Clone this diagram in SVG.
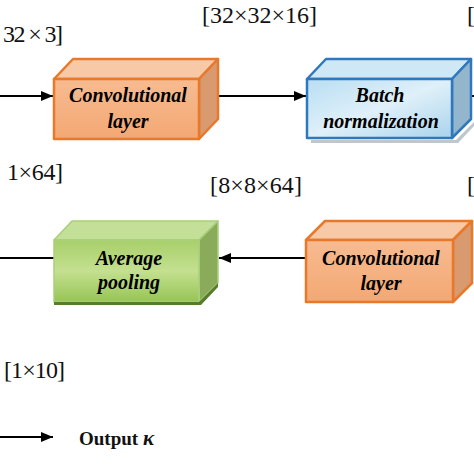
<svg xmlns="http://www.w3.org/2000/svg" width="474" height="474" viewBox="0 0 474 474">
<defs>
<linearGradient id="gOrF" x1="0" y1="0" x2="0" y2="1"><stop offset="0" stop-color="#f7bb90"/><stop offset="1" stop-color="#f3a874"/></linearGradient>
<linearGradient id="gBlF" x1="0" y1="0" x2="1" y2="1"><stop offset="0" stop-color="#b9def3"/><stop offset="0.5" stop-color="#dff0f9"/><stop offset="1" stop-color="#a9d3ec"/></linearGradient>
<linearGradient id="gGrF" x1="0" y1="0" x2="0" y2="1"><stop offset="0" stop-color="#a8cf6a"/><stop offset="0.5" stop-color="#c4e090"/><stop offset="1" stop-color="#96c455"/></linearGradient>
<marker id="ah" viewBox="0 0 12 10" refX="12" refY="5" markerWidth="12" markerHeight="10" markerUnits="userSpaceOnUse" orient="auto">
<path d="M0,0 L12,5 L0,10 Z" fill="#000"/>
</marker>
</defs>
<style>
.lbl{font-family:"Liberation Serif","Times New Roman",serif;font-weight:bold;font-style:italic;font-size:20px;fill:#000;text-anchor:middle}
.dim{font-family:"Liberation Serif","Times New Roman",serif;font-size:24px;fill:#111}
.wire{stroke:#000;stroke-width:2;fill:none}
.or{stroke:#e8792a;stroke-width:2.5;stroke-linejoin:round}
.bl{stroke:#2f78bd;stroke-width:2.5;stroke-linejoin:round}
.gr{stroke:#a9cf7c;stroke-width:1.5;stroke-linejoin:round}
</style>
<rect width="474" height="474" fill="#fff"/>

<g id="connectors">
<line class="wire" x1="0" y1="96" x2="53" y2="96" marker-end="url(#ah)"/>
<line class="wire" x1="218" y1="96" x2="306" y2="96" marker-end="url(#ah)"/>
<line class="wire" x1="471" y1="96" x2="474" y2="96"/>
<line class="wire" x1="306" y1="258" x2="219" y2="258" marker-end="url(#ah)"/>
<line class="wire" x1="54" y1="258" x2="0" y2="258"/>
<line class="wire" x1="0" y1="437" x2="53" y2="437" marker-end="url(#ah)"/>
</g>

<g id="conv1">
<polygon class="or" points="54,79 73,59 218,59 199,79" fill="#f8c9a6"/>
<polygon class="or" points="199,79 218,59 218,119 199,139" fill="#d99a70"/>
<rect class="or" x="54" y="79" width="145" height="60" fill="url(#gOrF)"/>
<text class="lbl" x="128" y="102">Convolutional</text>
<text class="lbl" x="128" y="128">layer</text>
</g>

<g id="batchnorm">
<polygon points="311,140 456,140 474,122 474,126 458,143 311,143" fill="#bfc6cc"/>
<polygon class="bl" points="307,79 326,59 471,59 452,79" fill="#cfe8f6"/>
<polygon class="bl" points="452,79 471,59 471,119 452,138" fill="#93b6cc"/>
<rect class="bl" x="307" y="79" width="145" height="59" fill="url(#gBlF)"/>
<text class="lbl" x="380" y="102">Batch</text>
<text class="lbl" x="381" y="128">normalization</text>
</g>

<g id="avgpool">
<polygon class="gr" points="54,240 72,221 218,221 199,240" fill="#c3df98"/>
<polygon class="gr" points="199,240 218,221 218,283 199,302" fill="#8aac5a"/>
<rect class="gr" x="54" y="240" width="145" height="62" fill="url(#gGrF)"/>
<polygon points="54,302 199,302 218,283 218,287 201,305 54,305" fill="#557d2c"/>
<text class="lbl" x="129" y="265">Average</text>
<text class="lbl" x="129" y="289">pooling</text>
</g>

<g id="conv2">
<polygon class="or" points="306,240 325,221 472,221 453,240" fill="#f8c9a6"/>
<polygon class="or" points="453,240 472,221 472,283 453,302" fill="#d99a70"/>
<rect class="or" x="306" y="240" width="147" height="62" fill="url(#gOrF)"/>
<text class="lbl" x="381" y="265">Convolutional</text>
<text class="lbl" x="381" y="290">layer</text>
</g>

<g id="labels">
<text class="dim" x="3" y="42" textLength="60" lengthAdjust="spacing">32 × 3]</text>
<text class="dim" x="202" y="23" textLength="115" lengthAdjust="spacing">[32×32×16]</text>
<text class="dim" x="467" y="23">[</text>
<text class="dim" x="7" y="180" textLength="56" lengthAdjust="spacing">1×64]</text>
<text class="dim" x="210" y="193" textLength="92" lengthAdjust="spacing">[8×8×64]</text>
<text class="dim" x="467" y="193">[</text>
<text class="dim" x="4" y="378" textLength="61" lengthAdjust="spacing">[1×10]</text>
<text x="79" y="445" font-family="'Liberation Serif','Times New Roman',serif" font-weight="bold" font-size="19" fill="#111">Output <tspan font-style="italic" font-size="21">κ</tspan></text>
</g>
</svg>
